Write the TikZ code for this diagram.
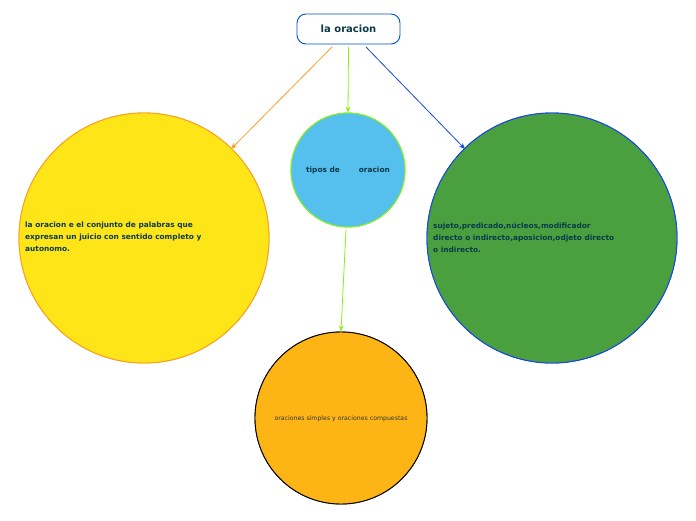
\documentclass[tikz,border=0pt]{standalone}
\usepackage{fontspec}
\setmainfont{DejaVu Sans}
\usetikzlibrary{arrows.meta}
\definecolor{tx}{HTML}{0B3A4A}
\tikzset{
 circ/.style={circle,draw,line width=0.9pt,inner sep=0pt},
 lbl/.style={font=\bfseries\fontsize{7.4}{12}\selectfont,text=tx,align=left,inner sep=0pt},
 conn/.style={-{Stealth[length=6pt,width=5pt]},line width=0.8pt},
}
\begin{document}
\begin{tikzpicture}[x=1pt,y=-1pt]
\useasboundingbox (0,0) rectangle (696,520);
\node[draw=blue!60!cyan!80!black,fill=white,rounded corners=9pt,line width=0.9pt,minimum width=103pt,minimum height=30pt,font=\bfseries\fontsize{10}{12}\selectfont,text=tx] (root) at (348.5,29) {la oracion};
\node[circ,draw=orange!90!yellow,fill=yellow!90!orange!95!white,minimum size=250pt] (def) at (144,238) {};
\node[circ,draw=green!80!lime,fill=cyan!55!blue!45!white,minimum size=114pt] (tipos) at (348,170) {};
\node[circ,draw=blue!90!cyan,fill=green!45!black!75!white,minimum size=250pt] (elem) at (552,238) {};
\node[circ,draw=black,fill=orange!75!yellow,minimum size=172pt] (ejem) at (341,418) {};
\definecolor{yl}{HTML}{FEE517}\definecolor{bl}{HTML}{55BFEE}\definecolor{gr}{HTML}{4AA03F}\definecolor{og}{HTML}{FDB516}
\node[circ,draw={rgb,255:red,250;green,160;blue,30},fill=yl,minimum size=250pt] at (def) {};
\node[circ,draw={rgb,255:red,140;green,240;blue,20},fill=bl,minimum size=114pt] at (tipos) {};
\node[circ,draw={rgb,255:red,20;green,70;blue,230},fill=gr,minimum size=250pt] at (elem) {};
\node[circ,draw=black,fill=og,minimum size=172pt] at (ejem) {};
\node[lbl,anchor=north west] (tdef) at (25,222) {la oracion e el conjunto de palabras que\\expresan un juicio con sentido completo y\\autonomo.};
\node[lbl] (ttipos) at (348,170) {tipos de\hspace{19pt}oracion};
\node[lbl,anchor=north west] (telem) at (433,222) {sujeto,predicado,núcleos,modificador\\directo o indirecto,aposicion,odjeto directo\\o indirecto.};
\node[font=\fontsize{6.2}{8}\selectfont,text=black!80,inner sep=0pt] (tejem) at (341,419) {oraciones simples y oraciones compuestas};
\draw[conn,draw={rgb,255:red,250;green,160;blue,30}] (332,47) -- (231,149);
\draw[conn,draw={rgb,255:red,140;green,240;blue,20}] (348.5,47) -- (tipos.north);
\draw[conn,draw={rgb,255:red,20;green,70;blue,230}] (366,47) -- (465,149);
\draw[conn,draw={rgb,255:red,140;green,240;blue,20}] (tipos.south) ++(-2,2) -- (ejem.north);
\end{tikzpicture}
\end{document}
